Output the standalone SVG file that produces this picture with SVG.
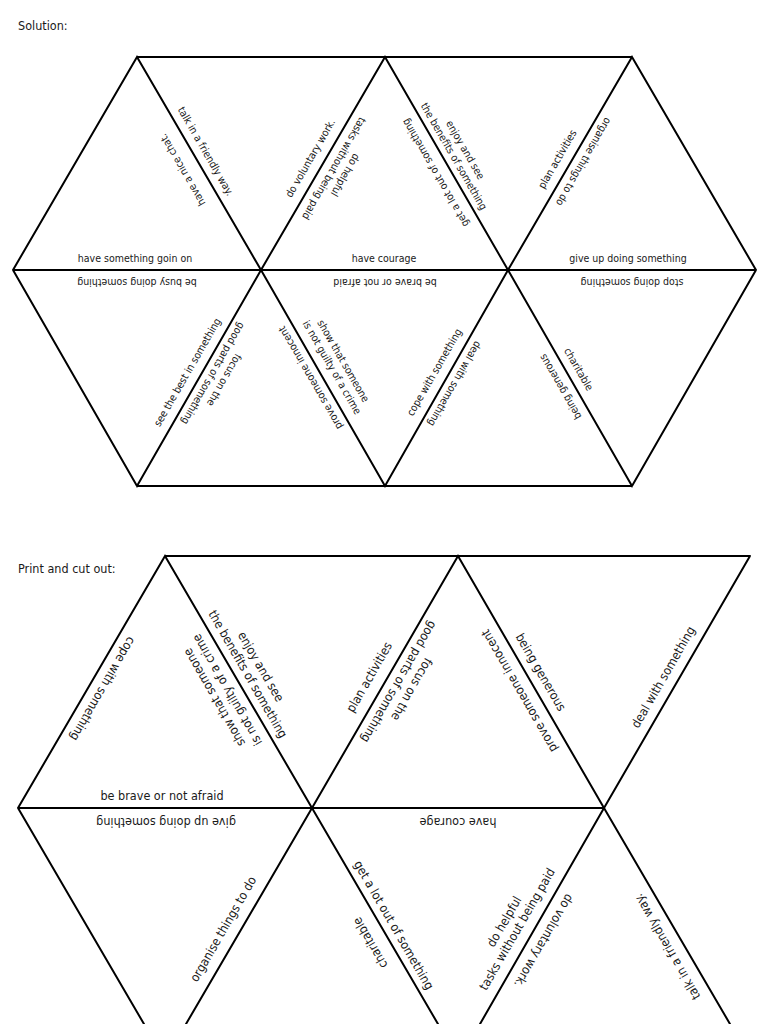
<svg xmlns="http://www.w3.org/2000/svg" width="768" height="1024" viewBox="0 0 768 1024">
<style>
.l{stroke:#000;stroke-width:2;fill:none;stroke-linecap:round}
text{font-family:"DejaVu Sans Condensed","DejaVu Sans",sans-serif;fill:#1a1a1a;text-anchor:middle;dominant-baseline:central}
.s{font-size:10.5px}
.b{font-size:12.5px}
.h{font-size:12.5px;text-anchor:start}
</style>
<rect width="768" height="1024" fill="#fff"/>
<text class="h" x="18" y="25">Solution:</text>
<text class="h" x="18" y="568">Print and cut out:</text>
<g id="connectors">
<g id="solution-lines">
<path class="l" d="M137,57H632 M13,270H756 M137,486H632 M13,270L137,57L261,270L385,57L508,270L632,57L756,270 M13,270L137,486L261,270L385,486L508,270L632,486L756,270"/>
</g>
<g id="cut-lines">
<path class="l" d="M165,556H750 M18,808H604 M18,808L165,556L312,808L458,556L604,808L750,556 M18,808L144,1024 M312,808L186,1024 M312,808L438,1024 M604,808L480,1024 M604,808L730,1024"/>
</g>
</g>
<g id="solution-texts" class="s">
<text x="135" y="258">have something goin on</text>
<text x="384" y="258">have courage</text>
<text x="628" y="258">give up doing something</text>
<text transform="translate(137,283) rotate(180)">be busy doing something</text>
<text transform="translate(385,283) rotate(180)">be brave or not afraid</text>
<text transform="translate(632,283) rotate(180)">stop doing something</text>
<text transform="translate(182,170) rotate(-120)">have a nice chat.</text>
<text transform="translate(206,151) rotate(60)">talk in a friendly way.</text>
<text transform="translate(310,158) rotate(-60)">do voluntary work.</text>
<text transform="translate(340,172) rotate(120)"><tspan x="0" dy="-6.5">do helpful</tspan><tspan x="0" dy="13">tasks without being paid</tspan></text>
<text transform="translate(435,173) rotate(-120)">get a lot out of something</text>
<text transform="translate(460,153) rotate(60)"><tspan x="0" dy="-6.5">enjoy and see</tspan><tspan x="0" dy="13">the benefits of something</tspan></text>
<text transform="translate(557,159) rotate(-60)">plan activities</text>
<text transform="translate(584,162) rotate(120)">organise things to do</text>
<text transform="translate(187,372) rotate(-60)">see the best in something</text>
<text transform="translate(219,377) rotate(120)"><tspan x="0" dy="-6.5">focus on the</tspan><tspan x="0" dy="13">good parts of something</tspan></text>
<text transform="translate(310,378) rotate(-120)">prove someone innocent</text>
<text transform="translate(338,364) rotate(60)"><tspan x="0" dy="-6.5">show that someone</tspan><tspan x="0" dy="13">is not guilty of a crime</tspan></text>
<text transform="translate(434,372) rotate(-60)">cope with something</text>
<text transform="translate(455,384) rotate(120)">deal with something</text>
<text transform="translate(560,387) rotate(-120)">being generous</text>
<text transform="translate(579,369) rotate(60)">charitable</text>
</g>
<g id="cut-texts" class="b">
<text x="162" y="795">be brave or not afraid</text>
<text transform="translate(166,822) rotate(180)">give up doing something</text>
<text transform="translate(458,822) rotate(180)">have courage</text>
<text transform="translate(103,689) rotate(120)">cope with something</text>
<text transform="translate(220,694) rotate(-120)"><tspan x="0" dy="-7.5">show that someone</tspan><tspan x="0" dy="15">is not guilty of a crime</tspan></text>
<text transform="translate(255,670) rotate(60)"><tspan x="0" dy="-7.5">enjoy and see</tspan><tspan x="0" dy="15">the benefits of something</tspan></text>
<text transform="translate(369,677) rotate(-60)">plan activities</text>
<text transform="translate(406,686) rotate(120)"><tspan x="0" dy="-7.5">focus on the</tspan><tspan x="0" dy="15">good parts of something</tspan></text>
<text transform="translate(519,691) rotate(-120)">prove someone innocent</text>
<text transform="translate(541,672) rotate(60)">being generous</text>
<text transform="translate(663,677) rotate(-60)">deal with something</text>
<text transform="translate(223,929) rotate(-60)">organise things to do</text>
<text transform="translate(370,943) rotate(-120)">charitable</text>
<text transform="translate(394,925) rotate(60)">get a lot out of something</text>
<text transform="translate(510,925) rotate(-60)"><tspan x="0" dy="-7.5">do helpful</tspan><tspan x="0" dy="15">tasks without being paid</tspan></text>
<text transform="translate(544,941) rotate(120)">do voluntary work.</text>
<text transform="translate(667,947) rotate(-120)">talk in a friendly way.</text>
</g>
</svg>
